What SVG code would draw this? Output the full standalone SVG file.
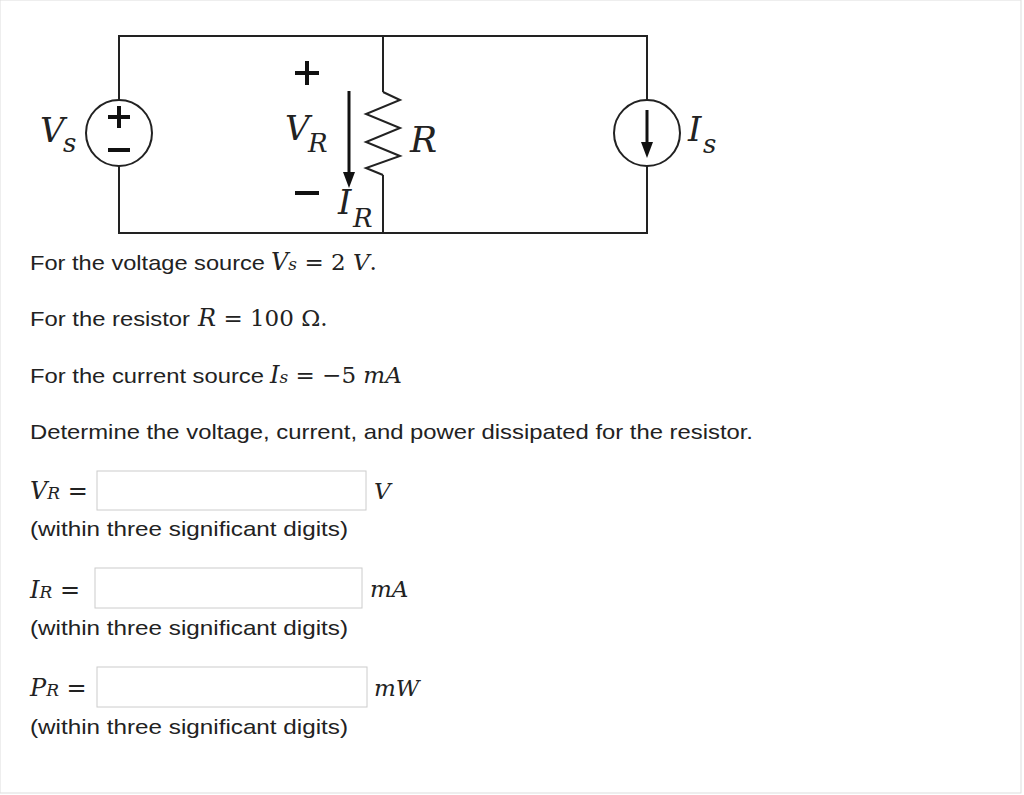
<svg xmlns="http://www.w3.org/2000/svg" width="1024" height="795" viewBox="0 0 1024 795">
<style>
.w{fill:none;stroke:#222;stroke-width:2}
.m{font-family:"DejaVu Serif","Liberation Serif",serif;font-style:italic;fill:#222}
.mr{font-family:"DejaVu Serif","Liberation Serif",serif;fill:#222}
.t{font-family:"Liberation Sans",Arial,sans-serif;font-size:21px;fill:#222}
.b{fill:#fff;stroke:#ccc;stroke-width:1}
</style>
<rect x="0" y="0" width="1021" height="793" fill="#fff" stroke="#ddd"/>
<g id="wires">
<path class="w" d="M119,100 V36 H647 V100 M119,166 V233 H647 V166 M383,36 V92 M383,175 V233"/>
<path d="M349,91 V176" stroke="#111" stroke-width="3"/>
<polygon points="343,172 355,172 349,188" fill="#111"/>
</g>
<g id="Vs">
<circle class="w" cx="119" cy="133" r="33"/>
<path d="M108,117 H130 M119,106 V128 M108,150 H130" stroke="#111" stroke-width="4"/>
<text class="m" x="40" y="142" font-size="34">V</text><text class="m" x="63" y="152" font-size="26">s</text>
</g>
<g id="R">
<path class="w" d="M383,92 L400,100 L366,114 L400,128 L366,142 L400,156 L366,168 L383,175"/>
<text class="m" x="410" y="152" font-size="36">R</text>
<path d="M295,73 H319 M307,61 V85 M295,193 H319" stroke="#111" stroke-width="4"/>
<text class="m" x="285" y="140" font-size="34">V</text><text class="m" x="308" y="152" font-size="26">R</text>
<text class="m" x="338" y="214" font-size="34">I</text><text class="m" x="353" y="227" font-size="26">R</text>
</g>
<g id="Is">
<circle class="w" cx="647" cy="133" r="33"/>
<path d="M647,110 V146" stroke="#111" stroke-width="3"/>
<polygon points="641,142 653,142 647,158" fill="#111"/>
<text class="m" x="688" y="141" font-size="34">I</text><text class="m" x="703" y="153" font-size="26">s</text>
</g>
<text class="t" x="30" y="270"><tspan textLength="235" lengthAdjust="spacingAndGlyphs">For the voltage source</tspan><tspan class="m" font-size="24" dx="6">V</tspan><tspan class="m" font-size="17">s</tspan><tspan class="mr" font-size="23"> = 2 </tspan><tspan class="m" font-size="23">V</tspan><tspan class="mr" font-size="23">.</tspan></text>
<text class="t" x="30" y="326"><tspan textLength="160" lengthAdjust="spacingAndGlyphs">For the resistor</tspan><tspan class="m" font-size="24" dx="8">R</tspan><tspan class="mr" font-size="23"> = 100 Ω.</tspan></text>
<text class="t" x="30" y="383"><tspan textLength="234" lengthAdjust="spacingAndGlyphs">For the current source</tspan><tspan class="m" font-size="24" dx="6">I</tspan><tspan class="m" font-size="17">s</tspan><tspan class="mr" font-size="23"> = −5 </tspan><tspan class="m" font-size="23">mA</tspan></text>
<text class="t" x="30" y="439" textLength="723" lengthAdjust="spacingAndGlyphs">Determine the voltage, current, and power dissipated for the resistor.</text>
<text class="m" x="30" y="499" font-size="24">V<tspan font-size="17">R</tspan><tspan class="mr"> =</tspan></text>
<rect class="b" x="97" y="471" width="269" height="39"/>
<text class="m" x="374" y="499" font-size="23">V</text>
<text class="t" x="30" y="536" textLength="318" lengthAdjust="spacingAndGlyphs">(within three significant digits)</text>
<text class="m" x="30" y="598" font-size="24">I<tspan font-size="17">R</tspan><tspan class="mr"> =</tspan></text>
<rect class="b" x="95" y="568" width="267" height="40"/>
<text class="m" x="370" y="597" font-size="23">mA</text>
<text class="t" x="30" y="635" textLength="318" lengthAdjust="spacingAndGlyphs">(within three significant digits)</text>
<text class="m" x="30" y="696" font-size="24">P<tspan font-size="17">R</tspan><tspan class="mr"> =</tspan></text>
<rect class="b" x="97" y="667" width="270" height="40"/>
<text class="m" x="374" y="696" font-size="23">mW</text>
<text class="t" x="30" y="734" textLength="318" lengthAdjust="spacingAndGlyphs">(within three significant digits)</text>
</svg>
